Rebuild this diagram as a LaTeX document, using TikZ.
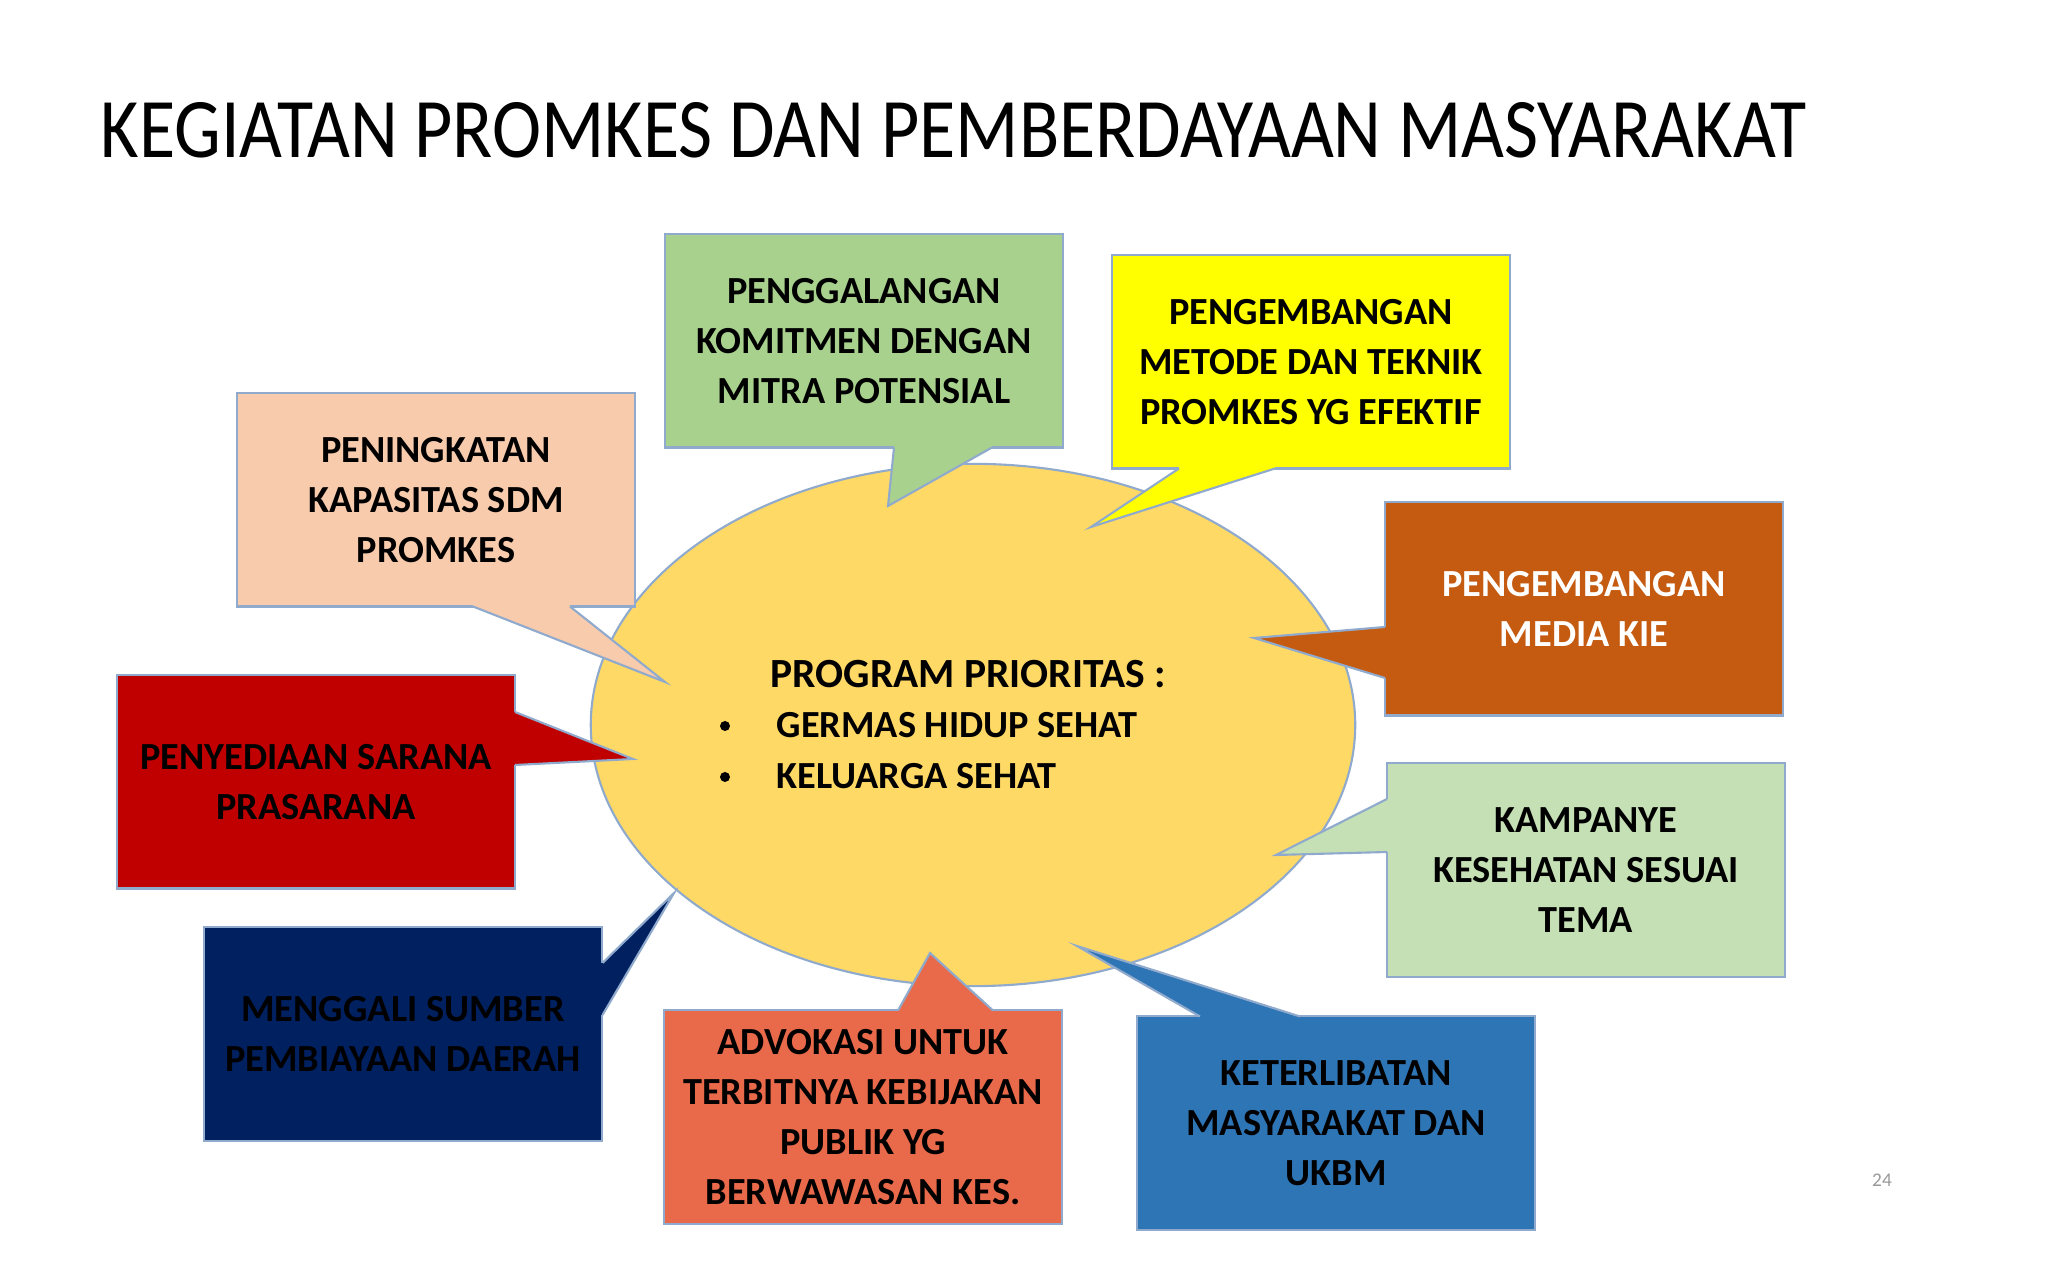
\documentclass[tikz,border=0pt]{standalone}
\usepackage{fontspec}
\setmainfont{Carlito}
\usetikzlibrary{shapes.geometric,calc}
\definecolor{peach}{RGB}{248,203,173}
\definecolor{leafgreen}{RGB}{169,209,142}
\definecolor{brightyellow}{RGB}{255,255,0}
\definecolor{rust}{RGB}{197,90,17}
\definecolor{palegreen}{RGB}{197,224,180}
\definecolor{midblue}{RGB}{46,117,182}
\definecolor{coral}{RGB}{232,106,74}
\definecolor{navyblue}{RGB}{0,32,96}
\definecolor{darkred}{RGB}{192,0,0}
\definecolor{gold}{RGB}{255,217,102}
\definecolor{edgeblue}{RGB}{143,170,204}
\newcommand\calltail[5]{%
  \fill[#1] ($#2+#5$) -- #2 -- #3 -- #4 -- ($#4+#5$) -- cycle;
  \draw[tailedge] #2 -- #3 -- #4;}
\begin{document}
\begin{tikzpicture}[x=0.01cm,y=-0.01cm,
  box/.style={rectangle, draw=edgeblue, line width=0.6pt, minimum width=3.98cm,
    minimum height=2.13cm, inner sep=0pt, align=center,
    font=\fontsize{10.9}{14.14}\selectfont\bfseries},
  tailedge/.style={draw=edgeblue, line width=0.6pt, line join=miter},
  progtxt/.style={anchor=base west, inner sep=0pt, font=\fontsize{10.9}{14.14}\selectfont\bfseries},
  dot/.style={circle, fill=black, inner sep=0pt, minimum size=0.1cm},
]
\useasboundingbox (0,0) rectangle (2048,1280);
\fill[white] (0,0) rectangle (2048,1280);

\node[anchor=base west, inner sep=0pt] (title) at (100,158)
  {\resizebox{17.04cm}{0.55cm}{KEGIATAN PROMKES DAN PEMBERDAYAAN MASYARAKAT}};

\node[ellipse, draw=edgeblue, fill=gold, line width=0.6pt, minimum width=7.64cm,
  minimum height=5.22cm, inner sep=0pt] (prog) at (973,725) {};
\node[progtxt, font=\fontsize{11.8}{14.14}\selectfont\bfseries] (p0) at (770,688) {PROGRAM PRIORITAS :};
\node[progtxt] (p1) at (776,738) {GERMAS HIDUP SEHAT};
\node[progtxt] (p2) at (776,789) {KELUARGA SEHAT};
\node[dot] (d1) at (725,726) {};
\node[dot] (d2) at (725,777) {};

% boxes
\node[box, fill=peach] (pk) at (436,500) {PENINGKATAN\\KAPASITAS SDM\\PROMKES};
\calltail{peach}{(473,606.5)}{(665,682)}{(570,606.5)}{(0,-3)}

\node[box, fill=leafgreen] (pg) at (864,341) {PENGGALANGAN\\KOMITMEN DENGAN\\MITRA POTENSIAL};
\calltail{leafgreen}{(894,447.5)}{(888,506)}{(992,447.5)}{(0,-3)}

\node[box, fill=brightyellow] (pm) at (1311,362) {PENGEMBANGAN\\METODE DAN TEKNIK\\PROMKES YG EFEKTIF};
\calltail{brightyellow}{(1179,468.5)}{(1091,527)}{(1275,468.5)}{(0,-3)}

\node[box, fill=rust, text=white] (kie) at (1584,609) {PENGEMBANGAN\\MEDIA KIE};
\calltail{rust}{(1385,627)}{(1254,638)}{(1385,678)}{(3,0)}

\node[box, fill=palegreen] (kt) at (1586,870) {KAMPANYE\\KESEHATAN SESUAI\\TEMA};
\calltail{palegreen}{(1387,799)}{(1276,855)}{(1387,852)}{(3,0)}

\node[box, fill=midblue] (km) at (1336,1123) {KETERLIBATAN\\MASYARAKAT DAN\\UKBM};
\calltail{midblue}{(1200,1016.5)}{(1077,946)}{(1300,1016.5)}{(0,3)}

\node[box, fill=coral] (adv) at (863,1117) {ADVOKASI UNTUK\\TERBITNYA KEBIJAKAN\\PUBLIK YG\\BERWAWASAN KES.};
\calltail{coral}{(898,1010.5)}{(930,953)}{(993,1010.5)}{(0,3)}

\node[box, fill=navyblue] (ms) at (403,1034) {MENGGALI SUMBER\\PEMBIAYAAN DAERAH};
\calltail{navyblue}{(602.5,963)}{(674,893)}{(602.5,1015)}{(-3,0)}

\node[box, fill=darkred] (ps) at (316,782) {PENYEDIAAN SARANA\\PRASARANA};
\calltail{darkred}{(515,712)}{(633,759)}{(515,765)}{(-3,0)}

\node[text=black!40, inner sep=0pt, font=\fontsize{5.5}{6}\selectfont] (num) at (1882,1180) {24};
\end{tikzpicture}
\end{document}
